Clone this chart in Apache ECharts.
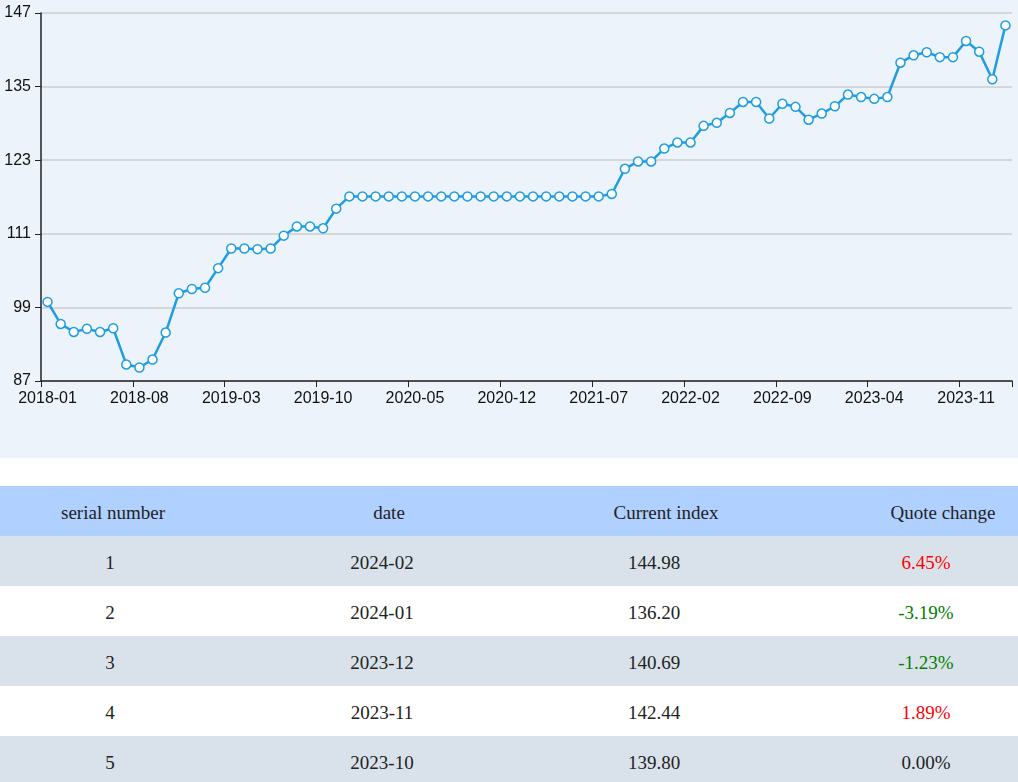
<!DOCTYPE html>
<html>
<head>
<meta charset="utf-8">
<script src="https://cdn.jsdelivr.net/npm/echarts@6/dist/echarts.min.js"></script>
<style>
  html, body { margin: 0; padding: 0; background: #ffffff; width: 1018px; height: 782px; overflow: hidden; }
  #chart { position: absolute; left: 0; top: 0; width: 1018px; height: 458px; }
  .row { position: absolute; left: 0; width: 1018px; height: 50px; font-family: "Liberation Serif", "Times New Roman", serif; font-size: 19px; color: #222; }
  .cell { position: absolute; top: 2px; height: 50px; line-height: 50px; width: 240px; text-align: center; white-space: nowrap; }
</style>
</head>
<body>
<div id="chart"></div>
<div id="table"></div>
<script>
// ---- chart data ----
const startYear = 2018, startMonth = 1, monthCount = 74;
const categories = [];
for (let i = 0; i < monthCount; i++) {
  const m = startMonth - 1 + i;
  const y = startYear + Math.floor(m / 12);
  const mm = (m % 12) + 1;
  categories.push(y + '-' + (mm < 10 ? '0' + mm : '' + mm));
}
const indexValues = [
  99.9, 96.3, 95.0, 95.5, 95.0, 95.6, 89.7, 89.2, 90.5, 94.9,
  101.3, 102.0, 102.2, 105.4, 108.6, 108.6, 108.5, 108.6, 110.7, 112.2,
  112.2, 111.9, 115.1, 117.1, 117.1, 117.1, 117.1, 117.1, 117.1, 117.1,
  117.1, 117.1, 117.1, 117.1, 117.1, 117.1, 117.1, 117.1, 117.1, 117.1,
  117.1, 117.1, 117.1, 117.5, 121.6, 122.8, 122.8, 124.9, 125.9, 125.9,
  128.6, 129.1, 130.7, 132.5, 132.5, 129.8, 132.2, 131.7, 129.6, 130.6,
  131.8, 133.7, 133.3, 133.0, 133.3, 138.9, 140.1, 140.6, 139.8, 139.8,
  142.44, 140.69, 136.20, 144.98
];
const yMin = 87, yMax = 147, yStep = 12;

// ---- table data ----
const tableHeaders = ['serial number', 'date', 'Current index', 'Quote change'];
const serials = ['1', '2', '3', '4', '5'];
const tableDates = ['2024-02', '2024-01', '2023-12', '2023-11', '2023-10'];
const tableIndex = ['144.98', '136.20', '140.69', '142.44', '139.80'];
const tableChange = ['6.45%', '-3.19%', '-1.23%', '1.89%', '0.00%'];

// ---- table layout ----
const headerCenters = [113, 389, 666, 943];
const dataCenters = [110, 382, 654, 926];
const tableTop = 486, rowH = 50;
const rowBgs = ['#d9e2ea', '#ffffff'];
function changeColor(s) {
  const v = parseFloat(s);
  if (v > 0) return '#ff0000';
  if (v < 0) return '#008000';
  return '#222';
}
const tbl = document.getElementById('table');
let html = '<div class="row" style="top:' + tableTop + 'px;background:#b0d0ff;">';
tableHeaders.forEach((h, i) => {
  html += '<div class="cell" style="left:' + (headerCenters[i] - 120) + 'px">' + h + '</div>';
});
html += '</div>';
for (let r = 0; r < serials.length; r++) {
  const cols = [serials[r], tableDates[r], tableIndex[r], tableChange[r]];
  html += '<div class="row" style="top:' + (tableTop + rowH * (r + 1)) + 'px;background:' + rowBgs[r % 2] + ';">';
  cols.forEach((c, i) => {
    const col = i === 3 ? changeColor(c) : '#222';
    html += '<div class="cell" style="left:' + (dataCenters[i] - 120) + 'px;color:' + col + '">' + c + '</div>';
  });
  html += '</div>';
}
tbl.innerHTML = html;

// ---- chart ----
const chart = echarts.init(document.getElementById('chart'), null, { renderer: 'canvas' });
chart.setOption({
  animation: false,
  backgroundColor: '#ecf3fa',
  grid: { left: 41, right: 6, top: 13, bottom: 77, containLabel: false },
  xAxis: {
    type: 'category',
    data: categories,
    boundaryGap: true,
    axisLine: { show: true, lineStyle: { color: '#222', width: 1.5 } },
    axisTick: { show: true, interval: 6, length: 6, lineStyle: { color: '#222' } },
    axisLabel: { interval: 6, color: '#111', fontSize: 16, fontFamily: 'Liberation Sans', margin: 10 },
    splitLine: { show: false }
  },
  yAxis: {
    type: 'value',
    min: yMin,
    max: yMax,
    interval: yStep,
    axisLine: { show: true, lineStyle: { color: '#222', width: 1.5 } },
    axisTick: { show: true, length: 6, lineStyle: { color: '#222' } },
    axisLabel: { color: '#111', fontSize: 16, fontFamily: 'Liberation Sans', margin: 10 },
    splitLine: { show: true, lineStyle: { color: '#cccccc', width: 1.5 } }
  },
  series: [{
    type: 'line',
    data: indexValues,
    symbol: 'circle',
    symbolSize: 9,
    showAllSymbol: true,
    lineStyle: { color: '#1e9de3', width: 2.5 },
    itemStyle: { color: '#ffffff', borderColor: '#1e9de3', borderWidth: 1.5 }
  }]
});
</script>
</body>
</html>
